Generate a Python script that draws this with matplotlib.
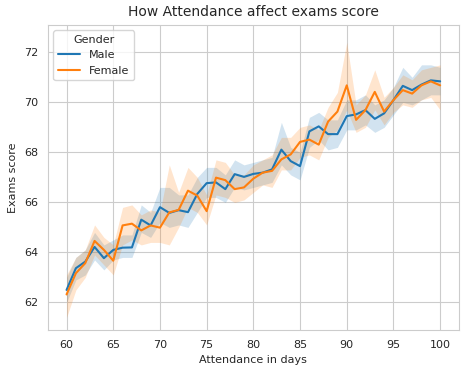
import numpy as np
import matplotlib
matplotlib.use('Agg')
import matplotlib.pyplot as plt
import seaborn as sns

# attendance days on the x axis
days = list(range(60, 101))

# mean exam score per day and its confidence band, male
male_mean = [62.5, 63.37, 63.63, 64.22, 63.77, 64.1, 64.19, 64.2, 65.31, 65.08,
             65.81, 65.58, 65.69, 65.61, 66.34, 66.77, 66.8, 66.53, 67.13, 67.02,
             67.14, 67.19, 67.32, 68.11, 67.65, 67.45, 68.84, 69.04, 68.73, 68.73,
             69.45, 69.52, 69.69, 69.34, 69.56, 70.09, 70.66, 70.49, 70.71, 70.88,
             70.84]
male_lo = [62.0, 62.9, 63.1, 63.7, 63.3, 63.7, 63.8, 63.8, 64.8, 64.6,
           65.2, 65.0, 65.1, 65.0, 65.6, 66.2, 66.2, 66.0, 66.6, 66.5,
           66.6, 66.7, 66.8, 67.5, 67.1, 66.9, 68.2, 68.5, 68.1, 68.2,
           68.9, 68.9, 69.1, 68.8, 69.0, 69.5, 70.0, 69.9, 70.1, 70.3,
           70.3]
male_hi = [63.0, 63.8, 64.1, 64.8, 64.3, 64.5, 64.7, 64.7, 65.9, 65.6,
           66.6, 66.6, 66.3, 66.3, 67.0, 67.4, 67.4, 67.1, 67.7, 67.5,
           67.6, 67.7, 67.8, 69.2, 68.2, 68.0, 69.4, 69.6, 69.3, 69.3,
           70.1, 70.1, 70.3, 69.9, 70.1, 70.6, 71.4, 71.0, 71.5, 71.5,
           71.4]

# same for female
female_mean = [62.32, 63.17, 63.57, 64.46, 64.1, 63.67, 65.08, 65.15, 64.88, 65.08,
               64.99, 65.6, 65.7, 66.47, 66.27, 65.65, 66.99, 66.89, 66.53, 66.6,
               66.95, 67.19, 67.26, 67.72, 67.92, 68.42, 68.51, 68.31, 69.23, 69.63,
               70.68, 69.3, 69.69, 70.42, 69.63, 70.09, 70.49, 70.35, 70.68, 70.84,
               70.68]
female_lo = [61.4, 62.5, 63.0, 63.9, 63.5, 63.1, 64.3, 64.5, 64.3, 64.4,
             64.4, 64.3, 65.0, 65.8, 65.6, 65.1, 66.3, 66.2, 66.0, 66.1,
             66.4, 66.7, 66.6, 67.3, 67.3, 67.8, 67.9, 67.7, 68.6, 68.9,
             69.7, 68.8, 69.0, 69.7, 69.1, 69.6, 69.9, 69.8, 70.1, 70.2,
             69.7]
female_hi = [63.1, 63.8, 64.1, 65.1, 64.6, 64.3, 65.8, 65.9, 65.5, 65.7,
             65.6, 67.5, 66.4, 67.4, 67.0, 66.3, 67.7, 67.6, 67.1, 67.1,
             67.5, 67.7, 67.9, 68.6, 68.6, 69.0, 69.1, 68.9, 69.8, 70.4,
             72.4, 69.9, 70.3, 71.3, 70.2, 70.6, 71.1, 70.9, 71.3, 71.4,
             71.5]

series = [('Male', male_mean, male_lo, male_hi, '#1f77b4'),
          ('Female', female_mean, female_lo, female_hi, '#ff7f0e')]

sns.set_style('whitegrid')
plt.rcParams['font.size'] = 8

fig, ax = plt.subplots(figsize=(4.74, 3.65), dpi=100)
fig.subplots_adjust(left=0.101, right=0.968, top=0.932, bottom=0.096)

for name, mean, lo, hi, color in series:
    ax.fill_between(days, lo, hi, color=color, alpha=0.2, linewidth=0)
    ax.plot(days, mean, color=color, linewidth=1.5, label=name)

ax.set_xlim(58, 102)
ax.set_ylim(60.9, 73.1)
ax.set_xticks(range(60, 101, 5))
ax.set_yticks(range(62, 73, 2))
ax.set_title('How Attendance affect exams score', fontsize=10)
ax.set_xlabel('Attendance in days')
ax.set_ylabel('Exams score')
ax.legend(title='Gender', loc='upper left')

fig.savefig('out.png', dpi=100)
